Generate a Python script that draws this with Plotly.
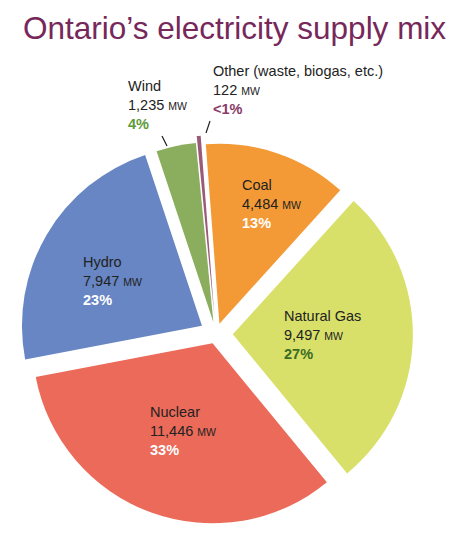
import plotly.graph_objects as go

# data
sources = ["Other (waste, biogas, etc.)", "Coal", "Natural Gas", "Nuclear", "Hydro", "Wind"]
megawatts = [122, 4484, 9497, 11446, 7947, 1235]
pct_labels = ["&lt;1%", "13%", "27%", "33%", "23%", "4%"]

slice_colors = ["#9a5b78", "#f39a36", "#d8e06a", "#eb6a59", "#6786c3", "#8aad5e"]
pct_colors = ["#8a3a68", "#ffffff", "#3b6b22", "#ffffff", "#ffffff", "#5f9a38"]
slice_pull = [0.105, 0.06, 0.094, 0.055, 0.09, 0.067]
# label anchor (left x, middle y) in pixels
label_pos = [(211, 90.5), (240, 204), (282, 334.5), (148, 431.5), (81, 280.5), (126, 105)]

W, H = 473, 538
FONT = "Liberation Sans, Arial, sans-serif"


def px(x):
    return x / W


def py(y):
    return 1 - y / H


fig = go.Figure(go.Pie(
    labels=sources,
    values=megawatts,
    sort=False,
    direction="clockwise",
    rotation=-5.6,
    pull=slice_pull,
    marker=dict(colors=slice_colors, line=dict(width=0)),
    textinfo="none",
    hoverinfo="label+value+percent",
    showlegend=False,
    domain=dict(x=[0.036, 0.877], y=[0.0095, 0.749]),
))

# labels
for name, mw, pct, col, (lx, ly) in zip(sources, megawatts, pct_labels, pct_colors, label_pos):
    txt = (f"{name}<br>{mw:,} <span style='font-size:10.5px'>MW</span>"
           f"<br><b><span style='color:{col}'>{pct}</span></b>")
    fig.add_annotation(
        x=px(lx), y=py(ly), xref="paper", yref="paper",
        xanchor="left", yanchor="middle", align="left",
        text=txt, showarrow=False,
        font=dict(family=FONT, size=14.5, color="#222222"),
    )

# leader lines for the small slices
for (x0, y0, x1, y1) in [(162, 136, 167, 146), (210, 121, 206, 133)]:
    fig.add_shape(type="line", xref="paper", yref="paper",
                  x0=px(x0), y0=py(y0), x1=px(x1), y1=py(y1),
                  line=dict(color="#222222", width=1.2))

fig.update_layout(
    width=W, height=H,
    margin=dict(l=0, r=0, t=0, b=0),
    paper_bgcolor="white",
    title=dict(text="Ontario\u2019s electricity supply mix", x=0.496, xanchor="center",
               y=1 - 28 / H, yanchor="middle",
               font=dict(family=FONT, size=31.5, color="#76285a")),
)

fig.write_html("out.html", config={"displayModeBar": False},
               post_script="document.body.style.margin='0';")
